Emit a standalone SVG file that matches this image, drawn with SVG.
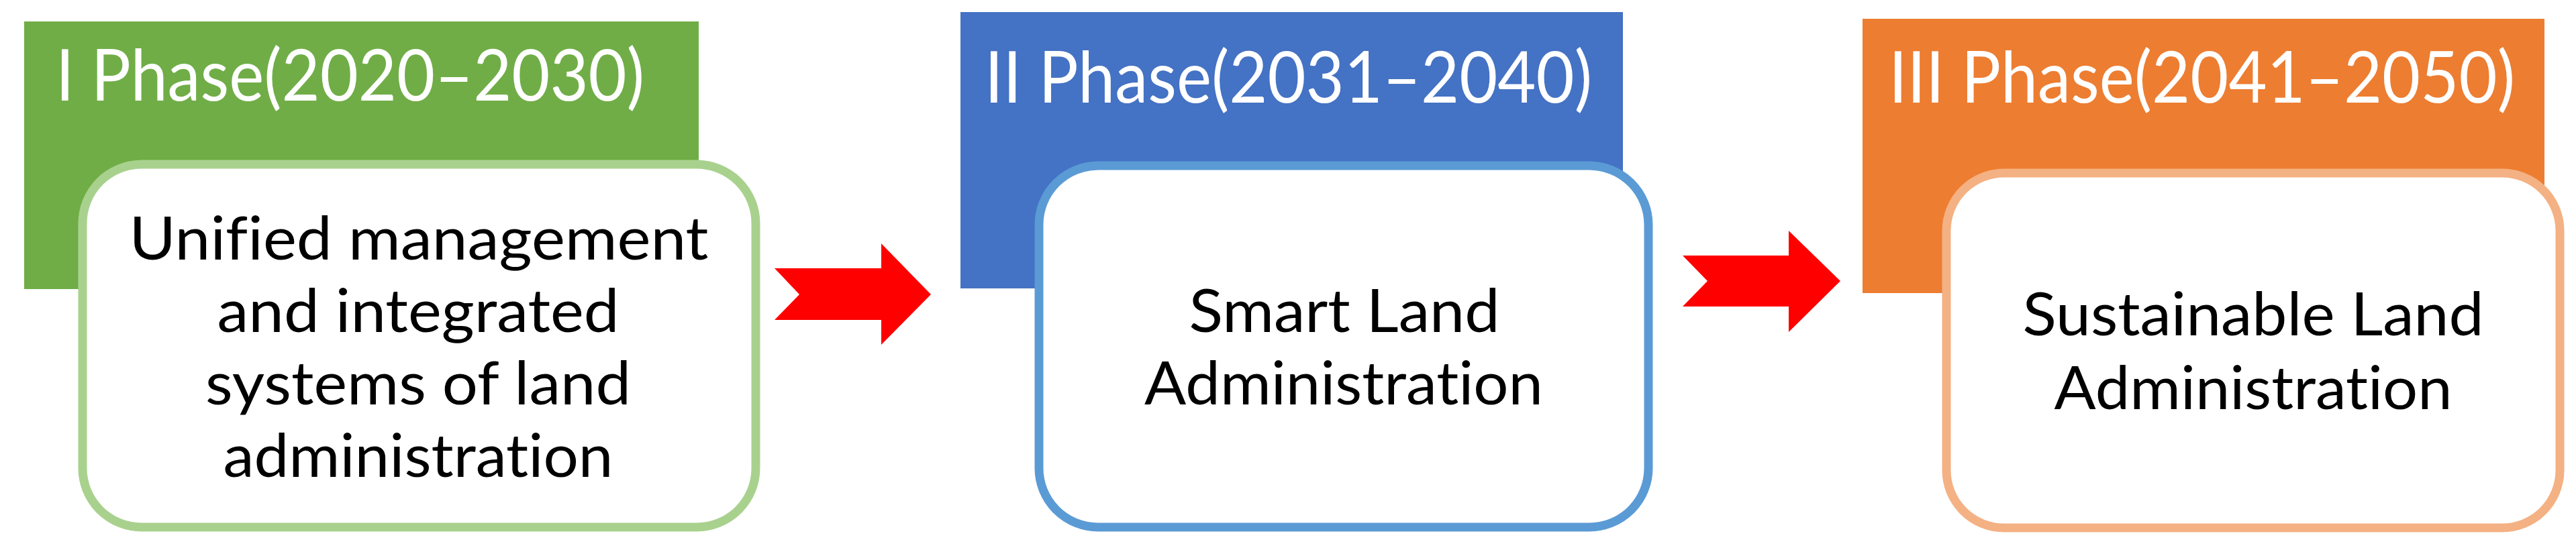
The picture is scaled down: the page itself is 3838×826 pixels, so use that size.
<svg xmlns="http://www.w3.org/2000/svg" width="3838" height="826" viewBox="0 0 3838 826">
<style>
.hdr{font-family:Lato,"Liberation Sans",sans-serif;font-size:106px;fill:#FFFFFF;font-variant-ligatures:none}
.body{font-family:Lato,"Liberation Sans",sans-serif;font-size:89px;fill:#000000;text-anchor:middle;font-variant-ligatures:none}
.card{fill:#FFFFFF;stroke-width:13}
.arrow{fill:#FF0000}
</style>
<rect width="3838" height="826" fill="#FFFFFF"/>
<g id="phase1">
<rect x="36" y="32" width="1005" height="399" fill="#70AD47"/>
<text class="hdr" x="83" y="150" textLength="877" lengthAdjust="spacingAndGlyphs">I Phase(2020–2030)</text>
<rect class="card" x="123" y="245" width="1003" height="541" rx="88" ry="88" stroke="#A9D18E"/>
<text class="body" x="624" y="387" textLength="863" lengthAdjust="spacingAndGlyphs">Unified management</text>
<text class="body" x="623" y="495" textLength="599" lengthAdjust="spacingAndGlyphs">and integrated</text>
<text class="body" x="623" y="603" textLength="634" lengthAdjust="spacingAndGlyphs">systems of land</text>
<text class="body" x="623" y="711" textLength="581" lengthAdjust="spacingAndGlyphs">administration</text>
</g>
<g id="phase2">
<rect x="1431" y="18" width="987" height="412" fill="#4472C4"/>
<text class="hdr" x="1467" y="153" textLength="905" lengthAdjust="spacingAndGlyphs">II Phase(2031–2040)</text>
<rect class="card" x="1548" y="247" width="908" height="539" rx="88" ry="88" stroke="#5B9BD5"/>
<text class="body" x="2003" y="495" textLength="463" lengthAdjust="spacingAndGlyphs">Smart Land</text>
<text class="body" x="2002" y="603" textLength="594" lengthAdjust="spacingAndGlyphs">Administration</text>
</g>
<g id="phase3">
<rect x="2775" y="28" width="1016" height="409" fill="#ED7D31"/>
<text class="hdr" x="2814" y="153" textLength="933" lengthAdjust="spacingAndGlyphs">III Phase(2041–2050)</text>
<rect class="card" x="2900" y="258" width="914" height="529" rx="86" ry="86" stroke="#F4B183"/>
<text class="body" x="3357" y="500" textLength="687" lengthAdjust="spacingAndGlyphs">Sustainable Land</text>
<text class="body" x="3357" y="610" textLength="593" lengthAdjust="spacingAndGlyphs">Administration</text>
</g>
<g id="connectors">
<polygon class="arrow" points="1154,400 1313,400 1313,363 1387,439 1313,514 1313,477 1154,477 1191,439"/>
<polygon class="arrow" points="2507,381 2665,381 2665,344 2742,419 2665,495 2665,457 2507,457 2544,419"/>
</g>
</svg>
